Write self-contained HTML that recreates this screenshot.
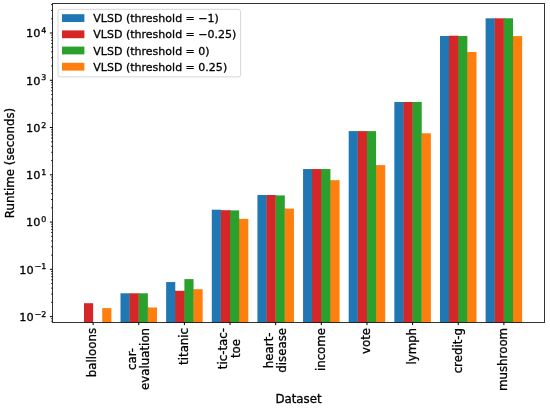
<!DOCTYPE html>
<html><head><meta charset="utf-8"><title>Runtime chart</title>
<style>html,body{margin:0;padding:0;background:#fff}svg{display:block}text{stroke:#000;stroke-width:.3px}</style></head>
<body>
<svg width="550" height="408" viewBox="0 0 550 408" font-family="'DejaVu Sans', 'Liberation Sans', sans-serif" fill="#000">
<rect width="550" height="408" fill="#fff"/>
<rect x="83.99" y="303.20" width="9.13" height="19.30" fill="#d62728"/>
<rect x="102.25" y="308.10" width="9.13" height="14.40" fill="#ff7f0e"/>
<rect x="120.50" y="293.30" width="9.13" height="29.20" fill="#1f77b4"/>
<rect x="129.43" y="293.30" width="1.2" height="29.20" fill="#1f77b4"/>
<rect x="129.63" y="293.30" width="9.13" height="29.20" fill="#d62728"/>
<rect x="138.56" y="293.30" width="1.2" height="29.20" fill="#d62728"/>
<rect x="138.76" y="293.30" width="9.13" height="29.20" fill="#2ca02c"/>
<rect x="147.69" y="307.50" width="1.2" height="15.00" fill="#2ca02c"/>
<rect x="147.89" y="307.50" width="9.13" height="15.00" fill="#ff7f0e"/>
<rect x="166.14" y="282.05" width="9.13" height="40.45" fill="#1f77b4"/>
<rect x="175.07" y="290.80" width="1.2" height="31.70" fill="#1f77b4"/>
<rect x="175.27" y="290.80" width="9.13" height="31.70" fill="#d62728"/>
<rect x="184.20" y="290.80" width="1.2" height="31.70" fill="#d62728"/>
<rect x="184.40" y="279.10" width="9.13" height="43.40" fill="#2ca02c"/>
<rect x="193.33" y="289.20" width="1.2" height="33.30" fill="#2ca02c"/>
<rect x="193.53" y="289.20" width="9.13" height="33.30" fill="#ff7f0e"/>
<rect x="211.78" y="209.70" width="9.13" height="112.80" fill="#1f77b4"/>
<rect x="220.71" y="210.20" width="1.2" height="112.30" fill="#1f77b4"/>
<rect x="220.91" y="210.20" width="9.13" height="112.30" fill="#d62728"/>
<rect x="229.84" y="210.40" width="1.2" height="112.10" fill="#d62728"/>
<rect x="230.04" y="210.40" width="9.13" height="112.10" fill="#2ca02c"/>
<rect x="238.97" y="218.90" width="1.2" height="103.60" fill="#2ca02c"/>
<rect x="239.17" y="218.90" width="9.13" height="103.60" fill="#ff7f0e"/>
<rect x="257.42" y="195.00" width="9.13" height="127.50" fill="#1f77b4"/>
<rect x="266.35" y="195.00" width="1.2" height="127.50" fill="#1f77b4"/>
<rect x="266.55" y="195.00" width="9.13" height="127.50" fill="#d62728"/>
<rect x="275.48" y="195.40" width="1.2" height="127.10" fill="#d62728"/>
<rect x="275.68" y="195.40" width="9.13" height="127.10" fill="#2ca02c"/>
<rect x="284.61" y="208.60" width="1.2" height="113.90" fill="#2ca02c"/>
<rect x="284.81" y="208.60" width="9.13" height="113.90" fill="#ff7f0e"/>
<rect x="303.06" y="169.05" width="9.13" height="153.45" fill="#1f77b4"/>
<rect x="311.99" y="169.05" width="1.2" height="153.45" fill="#1f77b4"/>
<rect x="312.19" y="169.05" width="9.13" height="153.45" fill="#d62728"/>
<rect x="321.12" y="169.05" width="1.2" height="153.45" fill="#d62728"/>
<rect x="321.32" y="169.05" width="9.13" height="153.45" fill="#2ca02c"/>
<rect x="330.25" y="180.20" width="1.2" height="142.30" fill="#2ca02c"/>
<rect x="330.45" y="180.20" width="9.13" height="142.30" fill="#ff7f0e"/>
<rect x="348.70" y="131.10" width="9.13" height="191.40" fill="#1f77b4"/>
<rect x="357.63" y="131.10" width="1.2" height="191.40" fill="#1f77b4"/>
<rect x="357.83" y="131.10" width="9.13" height="191.40" fill="#d62728"/>
<rect x="366.76" y="131.10" width="1.2" height="191.40" fill="#d62728"/>
<rect x="366.96" y="131.10" width="9.13" height="191.40" fill="#2ca02c"/>
<rect x="375.89" y="165.10" width="1.2" height="157.40" fill="#2ca02c"/>
<rect x="376.09" y="165.10" width="9.13" height="157.40" fill="#ff7f0e"/>
<rect x="394.34" y="102.00" width="9.13" height="220.50" fill="#1f77b4"/>
<rect x="403.27" y="102.00" width="1.2" height="220.50" fill="#1f77b4"/>
<rect x="403.47" y="102.00" width="9.13" height="220.50" fill="#d62728"/>
<rect x="412.40" y="102.00" width="1.2" height="220.50" fill="#d62728"/>
<rect x="412.60" y="102.00" width="9.13" height="220.50" fill="#2ca02c"/>
<rect x="421.53" y="133.30" width="1.2" height="189.20" fill="#2ca02c"/>
<rect x="421.73" y="133.30" width="9.13" height="189.20" fill="#ff7f0e"/>
<rect x="439.98" y="35.96" width="9.13" height="286.54" fill="#1f77b4"/>
<rect x="448.91" y="35.96" width="1.2" height="286.54" fill="#1f77b4"/>
<rect x="449.11" y="35.70" width="9.13" height="286.80" fill="#d62728"/>
<rect x="458.04" y="35.96" width="1.2" height="286.54" fill="#d62728"/>
<rect x="458.24" y="35.96" width="9.13" height="286.54" fill="#2ca02c"/>
<rect x="467.17" y="52.00" width="1.2" height="270.50" fill="#2ca02c"/>
<rect x="467.37" y="52.00" width="9.13" height="270.50" fill="#ff7f0e"/>
<rect x="485.62" y="18.30" width="9.13" height="304.20" fill="#1f77b4"/>
<rect x="494.55" y="18.30" width="1.2" height="304.20" fill="#1f77b4"/>
<rect x="494.75" y="18.30" width="9.13" height="304.20" fill="#d62728"/>
<rect x="503.68" y="18.30" width="1.2" height="304.20" fill="#d62728"/>
<rect x="503.88" y="18.30" width="9.13" height="304.20" fill="#2ca02c"/>
<rect x="512.81" y="36.10" width="1.2" height="286.40" fill="#2ca02c"/>
<rect x="513.01" y="36.10" width="9.13" height="286.40" fill="#ff7f0e"/>
<line x1="93.12" x2="93.12" y1="322.50" y2="325.10" stroke="#000" stroke-width="1"/>
<line x1="138.76" x2="138.76" y1="322.50" y2="325.10" stroke="#000" stroke-width="1"/>
<line x1="184.40" x2="184.40" y1="322.50" y2="325.10" stroke="#000" stroke-width="1"/>
<line x1="230.04" x2="230.04" y1="322.50" y2="325.10" stroke="#000" stroke-width="1"/>
<line x1="275.68" x2="275.68" y1="322.50" y2="325.10" stroke="#000" stroke-width="1"/>
<line x1="321.32" x2="321.32" y1="322.50" y2="325.10" stroke="#000" stroke-width="1"/>
<line x1="366.96" x2="366.96" y1="322.50" y2="325.10" stroke="#000" stroke-width="1"/>
<line x1="412.60" x2="412.60" y1="322.50" y2="325.10" stroke="#000" stroke-width="1"/>
<line x1="458.24" x2="458.24" y1="322.50" y2="325.10" stroke="#000" stroke-width="1"/>
<line x1="503.88" x2="503.88" y1="322.50" y2="325.10" stroke="#000" stroke-width="1"/>
<line x1="49.90" x2="52.50" y1="316.60" y2="316.60" stroke="#000" stroke-width="1"/>
<line x1="49.90" x2="52.50" y1="269.33" y2="269.33" stroke="#000" stroke-width="1"/>
<line x1="49.90" x2="52.50" y1="222.07" y2="222.07" stroke="#000" stroke-width="1"/>
<line x1="49.90" x2="52.50" y1="174.80" y2="174.80" stroke="#000" stroke-width="1"/>
<line x1="49.90" x2="52.50" y1="127.53" y2="127.53" stroke="#000" stroke-width="1"/>
<line x1="49.90" x2="52.50" y1="80.27" y2="80.27" stroke="#000" stroke-width="1"/>
<line x1="49.90" x2="52.50" y1="33.00" y2="33.00" stroke="#000" stroke-width="1"/>
<line x1="51.00" x2="52.50" y1="321.18" y2="321.18" stroke="#000" stroke-width="0.75"/>
<line x1="51.00" x2="52.50" y1="318.76" y2="318.76" stroke="#000" stroke-width="0.75"/>
<line x1="51.00" x2="52.50" y1="302.37" y2="302.37" stroke="#000" stroke-width="0.75"/>
<line x1="51.00" x2="52.50" y1="294.05" y2="294.05" stroke="#000" stroke-width="0.75"/>
<line x1="51.00" x2="52.50" y1="288.14" y2="288.14" stroke="#000" stroke-width="0.75"/>
<line x1="51.00" x2="52.50" y1="283.56" y2="283.56" stroke="#000" stroke-width="0.75"/>
<line x1="51.00" x2="52.50" y1="279.82" y2="279.82" stroke="#000" stroke-width="0.75"/>
<line x1="51.00" x2="52.50" y1="276.66" y2="276.66" stroke="#000" stroke-width="0.75"/>
<line x1="51.00" x2="52.50" y1="273.91" y2="273.91" stroke="#000" stroke-width="0.75"/>
<line x1="51.00" x2="52.50" y1="271.50" y2="271.50" stroke="#000" stroke-width="0.75"/>
<line x1="51.00" x2="52.50" y1="255.10" y2="255.10" stroke="#000" stroke-width="0.75"/>
<line x1="51.00" x2="52.50" y1="246.78" y2="246.78" stroke="#000" stroke-width="0.75"/>
<line x1="51.00" x2="52.50" y1="240.88" y2="240.88" stroke="#000" stroke-width="0.75"/>
<line x1="51.00" x2="52.50" y1="236.30" y2="236.30" stroke="#000" stroke-width="0.75"/>
<line x1="51.00" x2="52.50" y1="232.55" y2="232.55" stroke="#000" stroke-width="0.75"/>
<line x1="51.00" x2="52.50" y1="229.39" y2="229.39" stroke="#000" stroke-width="0.75"/>
<line x1="51.00" x2="52.50" y1="226.65" y2="226.65" stroke="#000" stroke-width="0.75"/>
<line x1="51.00" x2="52.50" y1="224.23" y2="224.23" stroke="#000" stroke-width="0.75"/>
<line x1="51.00" x2="52.50" y1="207.84" y2="207.84" stroke="#000" stroke-width="0.75"/>
<line x1="51.00" x2="52.50" y1="199.51" y2="199.51" stroke="#000" stroke-width="0.75"/>
<line x1="51.00" x2="52.50" y1="193.61" y2="193.61" stroke="#000" stroke-width="0.75"/>
<line x1="51.00" x2="52.50" y1="189.03" y2="189.03" stroke="#000" stroke-width="0.75"/>
<line x1="51.00" x2="52.50" y1="185.29" y2="185.29" stroke="#000" stroke-width="0.75"/>
<line x1="51.00" x2="52.50" y1="182.12" y2="182.12" stroke="#000" stroke-width="0.75"/>
<line x1="51.00" x2="52.50" y1="179.38" y2="179.38" stroke="#000" stroke-width="0.75"/>
<line x1="51.00" x2="52.50" y1="176.96" y2="176.96" stroke="#000" stroke-width="0.75"/>
<line x1="51.00" x2="52.50" y1="160.57" y2="160.57" stroke="#000" stroke-width="0.75"/>
<line x1="51.00" x2="52.50" y1="152.25" y2="152.25" stroke="#000" stroke-width="0.75"/>
<line x1="51.00" x2="52.50" y1="146.34" y2="146.34" stroke="#000" stroke-width="0.75"/>
<line x1="51.00" x2="52.50" y1="141.76" y2="141.76" stroke="#000" stroke-width="0.75"/>
<line x1="51.00" x2="52.50" y1="138.02" y2="138.02" stroke="#000" stroke-width="0.75"/>
<line x1="51.00" x2="52.50" y1="134.86" y2="134.86" stroke="#000" stroke-width="0.75"/>
<line x1="51.00" x2="52.50" y1="132.11" y2="132.11" stroke="#000" stroke-width="0.75"/>
<line x1="51.00" x2="52.50" y1="129.70" y2="129.70" stroke="#000" stroke-width="0.75"/>
<line x1="51.00" x2="52.50" y1="113.30" y2="113.30" stroke="#000" stroke-width="0.75"/>
<line x1="51.00" x2="52.50" y1="104.98" y2="104.98" stroke="#000" stroke-width="0.75"/>
<line x1="51.00" x2="52.50" y1="99.08" y2="99.08" stroke="#000" stroke-width="0.75"/>
<line x1="51.00" x2="52.50" y1="94.50" y2="94.50" stroke="#000" stroke-width="0.75"/>
<line x1="51.00" x2="52.50" y1="90.75" y2="90.75" stroke="#000" stroke-width="0.75"/>
<line x1="51.00" x2="52.50" y1="87.59" y2="87.59" stroke="#000" stroke-width="0.75"/>
<line x1="51.00" x2="52.50" y1="84.85" y2="84.85" stroke="#000" stroke-width="0.75"/>
<line x1="51.00" x2="52.50" y1="82.43" y2="82.43" stroke="#000" stroke-width="0.75"/>
<line x1="51.00" x2="52.50" y1="66.04" y2="66.04" stroke="#000" stroke-width="0.75"/>
<line x1="51.00" x2="52.50" y1="57.71" y2="57.71" stroke="#000" stroke-width="0.75"/>
<line x1="51.00" x2="52.50" y1="51.81" y2="51.81" stroke="#000" stroke-width="0.75"/>
<line x1="51.00" x2="52.50" y1="47.23" y2="47.23" stroke="#000" stroke-width="0.75"/>
<line x1="51.00" x2="52.50" y1="43.49" y2="43.49" stroke="#000" stroke-width="0.75"/>
<line x1="51.00" x2="52.50" y1="40.32" y2="40.32" stroke="#000" stroke-width="0.75"/>
<line x1="51.00" x2="52.50" y1="37.58" y2="37.58" stroke="#000" stroke-width="0.75"/>
<line x1="51.00" x2="52.50" y1="35.16" y2="35.16" stroke="#000" stroke-width="0.75"/>
<line x1="51.00" x2="52.50" y1="18.77" y2="18.77" stroke="#000" stroke-width="0.75"/>
<line x1="51.00" x2="52.50" y1="10.45" y2="10.45" stroke="#000" stroke-width="0.75"/>
<line x1="51.00" x2="52.50" y1="4.54" y2="4.54" stroke="#000" stroke-width="0.75"/>
<rect x="52.5" y="3.5" width="492.0" height="319.0" fill="none" stroke="#000" stroke-opacity="0.8" stroke-width="1"/>
<text x="46.3" y="320.85" font-size="11.3" text-anchor="end">10<tspan font-size="7.91" dx="0.9" dy="-4.1">−2</tspan></text>
<text x="46.3" y="273.58" font-size="11.3" text-anchor="end">10<tspan font-size="7.91" dx="0.9" dy="-4.1">−1</tspan></text>
<text x="46.3" y="226.32" font-size="11.3" text-anchor="end">10<tspan font-size="7.91" dx="0.9" dy="-4.1">0</tspan></text>
<text x="46.3" y="179.05" font-size="11.3" text-anchor="end">10<tspan font-size="7.91" dx="0.9" dy="-4.1">1</tspan></text>
<text x="46.3" y="131.78" font-size="11.3" text-anchor="end">10<tspan font-size="7.91" dx="0.9" dy="-4.1">2</tspan></text>
<text x="46.3" y="84.52" font-size="11.3" text-anchor="end">10<tspan font-size="7.91" dx="0.9" dy="-4.1">3</tspan></text>
<text x="46.3" y="37.25" font-size="11.3" text-anchor="end">10<tspan font-size="7.91" dx="0.9" dy="-4.1">4</tspan></text>
<text transform="translate(96.38,352.57) rotate(-90)" font-size="11.8" text-anchor="middle">balloons</text>
<text transform="translate(135.81,358.93) rotate(-90)" font-size="11.8" text-anchor="middle">car-</text>
<text transform="translate(148.62,358.93) rotate(-90)" font-size="11.8" text-anchor="middle">evaluation</text>
<text transform="translate(187.66,346.40) rotate(-90)" font-size="11.8" text-anchor="middle">titanic</text>
<text transform="translate(227.09,348.53) rotate(-90)" font-size="11.8" text-anchor="middle">tic-tac-</text>
<text transform="translate(239.90,348.53) rotate(-90)" font-size="11.8" text-anchor="middle">toe</text>
<text transform="translate(272.73,350.31) rotate(-90)" font-size="11.8" text-anchor="middle">heart-</text>
<text transform="translate(285.54,350.31) rotate(-90)" font-size="11.8" text-anchor="middle">disease</text>
<text transform="translate(324.58,349.51) rotate(-90)" font-size="11.8" text-anchor="middle">income</text>
<text transform="translate(370.22,340.94) rotate(-90)" font-size="11.8" text-anchor="middle">vote</text>
<text transform="translate(415.86,346.26) rotate(-90)" font-size="11.8" text-anchor="middle">lymph</text>
<text transform="translate(461.50,350.64) rotate(-90)" font-size="11.8" text-anchor="middle">credit-g</text>
<text transform="translate(507.14,359.46) rotate(-90)" font-size="11.8" text-anchor="middle">mushroom</text>
<text x="298.50" y="402.9" font-size="11.8" text-anchor="middle">Dataset</text>
<text transform="translate(13.9,163.00) rotate(-90)" font-size="11.8" text-anchor="middle">Runtime (seconds)</text>
<rect x="58" y="9.3" width="182.6" height="67.6" rx="2.2" fill="#fff" fill-opacity="0.8" stroke="#ccc" stroke-opacity="0.8" stroke-width="1"/>
<rect x="62.0" y="14.20" width="22.4" height="7.8" fill="#1f77b4"/>
<text x="93.3" y="22.10" font-size="11.02">VLSD (threshold = −1)</text>
<rect x="62.0" y="30.40" width="22.4" height="7.8" fill="#d62728"/>
<text x="93.3" y="38.30" font-size="11.02">VLSD (threshold = −0.25)</text>
<rect x="62.0" y="46.60" width="22.4" height="7.8" fill="#2ca02c"/>
<text x="93.3" y="54.50" font-size="11.02">VLSD (threshold = 0)</text>
<rect x="62.0" y="62.80" width="22.4" height="7.8" fill="#ff7f0e"/>
<text x="93.3" y="70.70" font-size="11.02">VLSD (threshold = 0.25)</text>
</svg>
</body></html>
